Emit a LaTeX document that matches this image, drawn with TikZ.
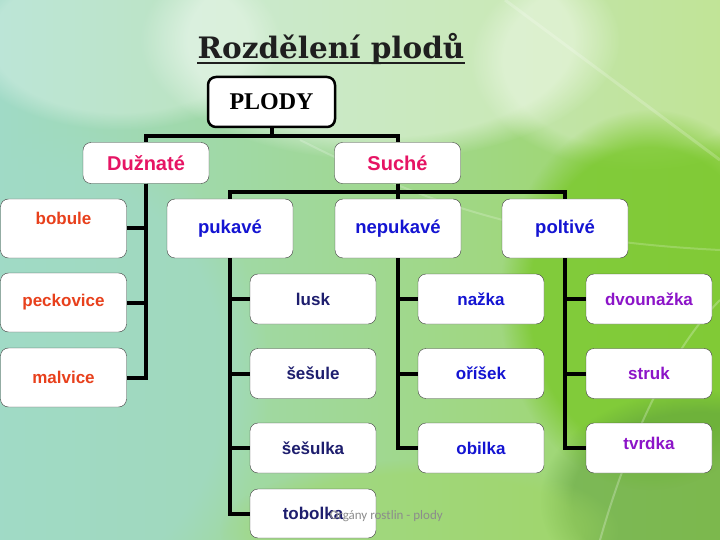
\documentclass[tikz,border=0pt]{standalone}
\usepackage{fontspec}
\setmainfont{Liberation Sans}
\newfontfamily\titlefont{DejaVu Serif}
\newfontfamily\rootfont{Liberation Serif}
\newfontfamily\footfont{Carlito}
\usetikzlibrary{fadings}

\definecolor{mintbg}{RGB}{160,218,198}
\definecolor{palebg}{RGB}{228,242,208}
\definecolor{greenbg}{RGB}{160,214,96}
\definecolor{brightbg}{RGB}{122,200,44}
\definecolor{darkbg}{RGB}{96,160,62}
\definecolor{crimson}{RGB}{230,20,100}
\definecolor{redorange}{RGB}{232,64,28}
\definecolor{typeblue}{RGB}{20,20,210}
\definecolor{navyfruit}{RGB}{30,30,110}
\definecolor{purplefruit}{RGB}{140,20,200}

\tikzset{
    box/.style={draw=black!75, fill=white, rounded corners=8pt, minimum width=126pt, inner sep=0pt, font=\bfseries\fontsize{17}{20}\selectfont},
    lift/.style={text depth=#1},
    conn/.style={draw=black, line width=4pt},
    glow/.style={path fading=circle with fuzzy edge 20 percent}
}

\begin{document}
\begin{tikzpicture}[x=1pt,y=-1pt]
    \useasboundingbox (0,0) rectangle (720,540);
    % background
    \begin{scope}
        \clip (0,0) rectangle (720,540);
        \shade[left color=mintbg, middle color=palebg, right color=greenbg] (0,0) rectangle (720,540);
        \fill[mintbg, opacity=0.7, glow] (40,380) ellipse (230 and 260);
        \fill[white, opacity=0.3, glow] (120,40) ellipse (160 and 90);
        \fill[white, opacity=0.45, glow] (380,40) ellipse (240 and 120);
        \fill[white, opacity=0.35, glow] (640,60) ellipse (170 and 110);
        \fill[brightbg, opacity=0.8, glow] (650,300) ellipse (150 and 190);
        \fill[darkbg, opacity=0.55, glow] (700,500) ellipse (160 and 110);
        \fill[greenbg, opacity=0.4, glow] (420,530) ellipse (200 and 70);
        \draw[white, opacity=0.2, line width=3pt] (505,0) -- (720,160);
        \draw[white, opacity=0.25, line width=2pt] (600,540) .. controls (640,400) and (690,330) .. (720,300);
        \draw[white, opacity=0.2, line width=2pt] (300,140) .. controls (420,200) and (520,240) .. (720,250);
    \end{scope}

    % title
    \node[anchor=base, inner sep=0pt, text=black!88, font=\titlefont\bfseries\fontsize{29.5}{32}\selectfont] (title) at (331,59) {Rozdělení plodů};
    \draw[black!88, line width=1.8pt] ([yshift=-4pt]title.base west) -- ([yshift=-4pt]title.base east);

    % boxes
    \node[draw=black, line width=2.5pt, fill=white, rounded corners=8pt, minimum width=127pt, minimum height=50pt, font=\rootfont\bfseries\fontsize{24}{26}\selectfont] (plody) at (271.5,102) {PLODY};
    \begin{scope}[every node/.append style={box}]
        \node[minimum height=41pt, text=crimson, font=\bfseries\fontsize{20}{22}\selectfont] (duz) at (146,163) {Dužnaté};
        \node[minimum height=41pt, text=crimson, font=\bfseries\fontsize{20}{22}\selectfont] (such) at (397.5,163) {Suché};
        \node[minimum height=59pt, text=redorange, lift=20pt] (bobule) at (63.5,228.5) {bobule};
        \node[minimum height=59pt, text=redorange] (peckovice) at (63.5,302.5) {peckovice};
        \node[minimum height=59pt, text=redorange] (malvice) at (63.5,377.5) {malvice};
        \node[minimum height=59pt, text=typeblue, font=\bfseries\fontsize{18.5}{21}\selectfont] (pukave) at (230,228.5) {pukavé};
        \node[minimum height=59pt, text=typeblue, font=\bfseries\fontsize{18.5}{21}\selectfont] (nepukave) at (398,228.5) {nepukavé};
        \node[minimum height=59pt, text=typeblue, font=\bfseries\fontsize{18.5}{21}\selectfont] (poltive) at (565,228.5) {poltivé};
        \node[minimum height=50pt, text=navyfruit] (lusk) at (313,299) {lusk};
        \node[minimum height=50pt, text=navyfruit] (sesule) at (313,373.5) {šešule};
        \node[minimum height=50pt, text=navyfruit] (sesulka) at (313,448) {šešulka};
        \node[minimum height=49pt, text=navyfruit] (tobolka) at (313,513.5) {tobolka};
        \node[minimum height=50pt, text=typeblue] (nazka) at (481,299) {nažka};
        \node[minimum height=50pt, text=typeblue] (orisek) at (481,373.5) {oříšek};
        \node[minimum height=50pt, text=typeblue] (obilka) at (481,448) {obilka};
        \node[minimum height=50pt, text=purplefruit] (dvounazka) at (649,299) {dvounažka};
        \node[minimum height=50pt, text=purplefruit] (struk) at (649,373.5) {struk};
        \node[minimum height=50pt, text=purplefruit, lift=10pt] (tvrdka) at (649,448) {tvrdka};
    \end{scope}

    % connectors
    \draw[conn] (plody.south) -- ++(0,8) -| (duz.north);
    \draw[conn] (plody.south) -- ++(0,8) -| (such.north);
    \draw[conn] (duz.south) |- (bobule.east);
    \draw[conn] (duz.south) |- (peckovice.east);
    \draw[conn] (duz.south) |- (malvice.east);
    \draw[conn] (such.south) -- ++(0,8) -| (pukave.north);
    \draw[conn] (such.south) -- ++(0,8) -| (nepukave.north);
    \draw[conn] (such.south) -- ++(0,8) -| (poltive.north);
    \draw[conn] (pukave.south) |- (lusk.west);
    \draw[conn] (pukave.south) |- (sesule.west);
    \draw[conn] (pukave.south) |- (sesulka.west);
    \draw[conn] (pukave.south) |- (tobolka.west);
    \draw[conn] (nepukave.south) |- (nazka.west);
    \draw[conn] (nepukave.south) |- (orisek.west);
    \draw[conn] (nepukave.south) |- (obilka.west);
    \draw[conn] (poltive.south) |- (dvounazka.west);
    \draw[conn] (poltive.south) |- (struk.west);
    \draw[conn] (poltive.south) |- (tvrdka.west);

    % footer
    \node[anchor=base east, inner sep=0pt, text=black!45, font=\footfont\fontsize{13}{15}\selectfont] (footer) at (443,519) {Orgány rostlin - plody};
\end{tikzpicture}
\end{document}
